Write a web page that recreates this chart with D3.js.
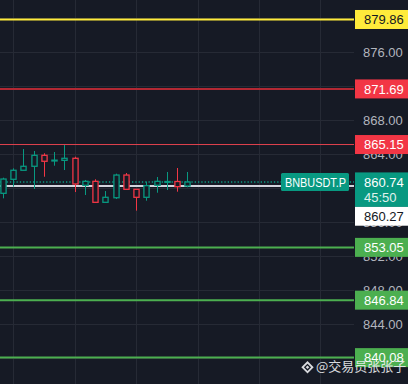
<!DOCTYPE html>
<html><head><meta charset="utf-8">
<script src="https://cdn.jsdelivr.net/npm/d3@7"></script>
<style>body{margin:0;background:#161a25;overflow:hidden} svg{display:block}</style>
</head><body><svg id="c" width="408" height="384"></svg>
<script>
// ---- data ----
const opens  = [859.41,861.06,862.12,862.59,863.88,863.27,863.29,863.53,860.35,860.82,858.35,858.89,861.56,859.88,858.94,860.35,860.76,860.80,860.27];
const highs  = [861.25,862.35,864.62,864.39,864.12,864.27,865.09,863.72,860.98,861.06,859.68,861.72,861.80,859.88,860.78,861.33,861.92,862.39,861.92];
const lows   = [858.82,860.19,862.12,859.92,861.36,862.66,862.15,859.56,859.21,858.30,858.35,858.74,859.88,857.37,858.54,859.48,859.80,859.60,860.12];
const closes = [861.09,862.12,862.59,863.88,863.18,863.31,863.53,860.51,860.82,858.35,858.94,861.56,859.88,858.94,860.31,860.82,860.80,860.19,860.74];
const levelPrices = [879.86, 871.69, 865.15, 853.05, 846.84, 840.08];
const levelKinds  = ["yellow","redThick","redThin","green","green","green"];
const yTicks = [840,844,848,852,856,860,864,868,872,876,880];
const yTickLabels = [844,848,852,856,864,868,876]; // the ones not fully hidden by labels
const xGridIdx = [1,7,13,19,25,31];
const lastPrice = 860.74, refPrice = 860.27;
const symbol = "BNBUSDT.P", countdown = "45:50";
const watermark = "@交易员张张子";

// ---- styles ----
const BG="#161a25", UP="#089981", DN="#f23645";
const kindStyle = {
  yellow:{line:"#ffeb3b", w:2, box:"#ffeb3b", txt:"#131722"},
  redThick:{line:"#b22833", w:2, box:"#f23645", txt:"#ffffff"},
  redThin:{line:"#e0424e", w:1, box:"#f23645", txt:"#ffffff"},
  green:{line:"#4caf50", w:2, box:"#4caf50", txt:"#ffffff"}
};
const W=408,H=384, plotR=354;
const svg=d3.select("#c");
svg.append("rect").attr("width",W).attr("height",H).attr("fill",BG);

const x=d3.scaleLinear().domain([0,18]).range([3,187.3]);
const y=d3.scaleLinear().domain([840,880]).range([358.3,18.3]);
const font="'Liberation Sans', Arial, sans-serif";

// grid
const g=svg.append("g");
g.selectAll(".hg").data(yTicks).join("line")
 .attr("x1",0).attr("x2",plotR).attr("y1",d=>Math.round(y(d))+0.5).attr("y2",d=>Math.round(y(d))+0.5)
 .attr("stroke","#262a35").attr("stroke-width",1);
g.selectAll(".vg").data(xGridIdx).join("line")
 .attr("x1",d=>Math.round(x(d))+0.5).attr("x2",d=>Math.round(x(d))+0.5).attr("y1",0).attr("y2",H)
 .attr("stroke","#262a35").attr("stroke-width",1);

// axis tick labels
const yAxis=d3.axisRight(y).tickValues(yTickLabels).tickFormat(d3.format(".2f")).tickSize(0).tickPadding(0);
const ax=svg.append("g").attr("transform",`translate(363,0)`).call(yAxis);
ax.select(".domain").remove();
ax.selectAll("text").attr("fill","#b2b5be").attr("font-size",13).attr("font-family",font).attr("dy","0.35em");

// level lines
levelPrices.forEach((p,i)=>{
  const s=kindStyle[levelKinds[i]];
  svg.append("line").attr("x1",0).attr("x2",plotR).attr("y1",y(p)).attr("y2",y(p))
    .attr("stroke",s.line).attr("stroke-width",s.w);
});

// ref line (white) and last price dotted
svg.append("line").attr("x1",0).attr("x2",plotR).attr("y1",y(refPrice)).attr("y2",y(refPrice))
  .attr("stroke","#d1d4dc").attr("stroke-width",2.2);
svg.append("line").attr("x1",0).attr("x2",plotR).attr("y1",y(lastPrice)).attr("y2",y(lastPrice))
  .attr("stroke",UP).attr("stroke-width",1.3).attr("stroke-dasharray","1.3,2");

// candles
const cg=svg.append("g");
d3.range(opens.length).forEach(i=>{
  const up=closes[i]>=opens[i], col=up?UP:DN, cx=Math.round(x(i))+0.5;
  cg.append("line").attr("x1",cx).attr("x2",cx).attr("y1",y(highs[i])).attr("y2",y(lows[i]))
    .attr("stroke",col).attr("stroke-width",1);
  const t=y(Math.max(opens[i],closes[i])), b=y(Math.min(opens[i],closes[i]));
  cg.append("rect").attr("x",cx-2.6).attr("width",5.2).attr("y",t).attr("height",Math.max(b-t,0.8))
    .attr("fill",BG).attr("stroke",col).attr("stroke-width",1.3);
});

// level label boxes
const lb=svg.append("g");
levelPrices.forEach((p,i)=>{
  const s=kindStyle[levelKinds[i]], yy=y(p);
  lb.append("rect").attr("x",355).attr("y",yy-9.5).attr("width",53).attr("height",19).attr("fill",s.box);
  lb.append("text").attr("x",364).attr("y",yy).attr("dy","0.36em").attr("fill",s.txt)
    .attr("font-size",13).attr("font-family",font).text(d3.format(".2f")(p));
});

// symbol label
const ly=y(lastPrice);
svg.append("rect").attr("x",281).attr("y",ly-9).attr("width",68).attr("height",18).attr("rx",1.5).attr("fill",UP);
svg.append("text").attr("x",285).attr("y",ly).attr("dy","0.36em")
  .attr("fill","#fff").attr("font-size",12.5).attr("font-family",font)
  .attr("textLength",61).attr("lengthAdjust","spacingAndGlyphs").text(symbol);
// last price box
svg.append("rect").attr("x",355).attr("y",ly-9.6).attr("width",53).attr("height",34.5).attr("fill",UP);
svg.append("text").attr("x",364).attr("y",ly).attr("dy","0.36em").attr("fill","#fff")
  .attr("font-size",13).attr("font-family",font).text(d3.format(".2f")(lastPrice));
svg.append("text").attr("x",364).attr("y",ly+15).attr("dy","0.36em").attr("fill","#e0f2ee")
  .attr("font-size",13).attr("font-family",font).text(countdown);
// ref price box
const ry=ly+24.9;
svg.append("rect").attr("x",355).attr("y",ry).attr("width",53).attr("height",18.8).attr("fill","#ffffff");
svg.append("text").attr("x",364).attr("y",ry+9.4).attr("dy","0.36em").attr("fill","#131722")
  .attr("font-size",13).attr("font-family",font).text(d3.format(".2f")(refPrice));

// watermark
const wm=svg.append("g").attr("opacity",0.92);
const lx=307.5, lyy=367.3;
const dia=(cx,cy,r)=>`M${cx},${cy-r}L${cx+r},${cy}L${cx},${cy+r}L${cx-r},${cy}Z`;
wm.append("path").attr("d",dia(lx,lyy,6.2)+dia(lx,lyy,3.6)).attr("fill-rule","evenodd").attr("fill","#eaecef");
wm.append("path").attr("d",dia(lx,lyy,1.8)).attr("fill","#eaecef");
// small notches to mimic the logo's segmented ring
[[0,-4.9],[4.9,0],[0,4.9],[-4.9,0]].forEach(([dx,dy])=>{});
wm.append("text").attr("x",316).attr("y",lyy-0.5).attr("dy","0.36em").attr("fill","#eaecef")
  .attr("font-size",13).attr("font-family","'Noto Sans CJK SC', sans-serif").text(watermark);
</script></body></html>
